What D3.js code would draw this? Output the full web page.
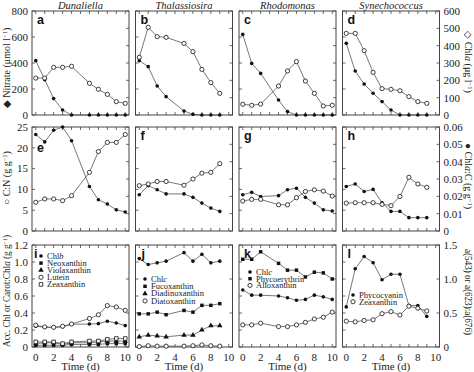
<!DOCTYPE html>
<html><head><meta charset="utf-8">
<script src="https://cdn.jsdelivr.net/npm/d3@7"></script>
<style>body{margin:0;background:#fff}svg{display:block}</style>
</head><body>
<script>
// ---------- data ----------
const species = ["Dunaliella","Thalassiosira","Rhodomonas","Synechococcus"];
const panelLetters = ["a","b","c","d","e","f","g","h","i","j","k","l"];
const timeA = [0,1,2,3,4,6,7,8,9,10];
const timeB = [0,1,2,3,5,6,7,8,9];
const timeC = [0,1,2,4,5,6,7,8,9,10];
const timeD = [0,1,2,3,4,5,6,7,8,9];
const timeTicks = [0,2,4,6,8,10];

// row 1: nitrate (left, umol/l) and Chla (right, ug/l)
const nitrateA = [418,272,126,38,0,0,0,0,0,0];
const chlaA    = [213,213,275,275,281,183,148,119,77,67];
const nitrateB = [418,372,223,141,31,5,0,0,0];
const chlaB    = [333,506,452,448,413,365,263,187,125];
const nitrateC = [620,397,320,115,26,0,0,0,0,0];
const chlaC    = [62,56,63,167,254,308,196,125,52,56];
const nitrateD = [551,338,238,167,103,38,0,0,0,0];
const chlaD    = [471,471,371,246,152,148,140,106,77,67];

// row 2: C:N (left) and Chla:C (right)
const cnA   = [6.9,7.7,7.7,7.3,8.5,14.1,19.1,21.3,21.3,23.2];
const chlcA = [0.0557,0.0514,0.0581,0.0600,0.0521,0.0257,0.0180,0.0156,0.0122,0.0110];
const cnB   = [10.9,11.3,11.9,11.9,11.0,12.5,13.9,14.1,16.2];
const chlcB = [0.0209,0.0262,0.0238,0.0214,0.0214,0.0194,0.0161,0.0132,0.0113];
const cnC   = [7.2,7.6,7.6,6.3,6.3,8.0,9.5,9.9,9.6,8.4];
const chlcC = [0.0209,0.0223,0.0199,0.0204,0.0238,0.0247,0.0194,0.0161,0.0122,0.0115];
const cnD   = [6.7,6.8,6.8,6.8,6.4,6.1,8.3,12.9,11.3,10.5];
const chlcD = [0.0257,0.0271,0.0228,0.0240,0.0163,0.0113,0.0113,0.0077,0.0077,0.0077];

// row 3: accessory pigments (left, g/g) and absorption ratios (right)
const chlbI   = [0.245,0.232,0.228,0.238,0.268,0.270,0.275,0.303,0.282,0.252];
const neoI    = [0.02,0.02,0.02,0.02,0.03,0.03,0.03,0.04,0.04,0.04];
const violaI  = [0.04,0.05,0.05,0.03,0.05,0.05,0.06,0.07,0.07,0.07];
const luteinI = [0.256,0.236,0.232,0.244,0.270,0.335,0.379,0.487,0.471,0.431];
const zeaI    = [0.06,0.06,0.06,0.04,0.06,0.07,0.07,0.09,0.10,0.10];
const chlcJ   = [1.04,0.97,0.99,1.01,1.11,1.01,1.09,0.99,1.01];
const fucoJ   = [0.39,0.39,0.41,0.38,0.43,0.41,0.49,0.49,0.51];
const diadJ   = [0.12,0.14,0.13,0.12,0.14,0.14,0.20,0.25,0.25];
const diatJ   = [0.005,0.015,0.01,0.01,0.01,0.015,0.025,0.015,0.01];
const chlcK   = [0.67,0.61,0.61,0.60,0.58,0.55,0.56,0.61,0.59,0.56];
const pheK    = [1.29,1.29,1.40,1.23,1.13,1.13,1.03,1.10,1.09,1.00];
const alloK   = [0.26,0.26,0.28,0.24,0.24,0.26,0.29,0.33,0.35,0.41];
const pcL     = [0.59,1.15,1.33,1.24,0.99,1.07,1.07,0.61,0.61,0.45];
const zeaL    = [0.38,0.37,0.39,0.40,0.49,0.52,0.47,0.60,0.57,0.53];

const leftTicks  = [[0,200,400,600,800],[0,5,10,15,20,25],[0,0.2,0.4,0.6,0.8,1.0,1.2]];
const rightTicks = [[0,100,200,300,400,500,600],[0,0.01,0.02,0.03,0.04,0.05,0.06],[0,0.5,1.0,1.5]];
const leftFmt  = [d=>String(d), d=>String(d), d=>d===0?"0":d3.format(".1f")(d)];
const rightFmt = [d=>String(d), d=>d===0?"0":d3.format(".2f")(d), d=>d===0?"0":d3.format(".1f")(d)];

// ---------- layout ----------
const W=474,H=372;
const colL=[32,135.5,239,342.5], colW=97;
const rowT=[11,127,245], rowB=[115,231,347];
const SERIF="'Liberation Serif','Times New Roman',serif";
const SANS="'Liberation Sans',Arial,sans-serif";
const LINE="#555", INK="#111", FRAME="#444";

const svg=d3.select("body").append("svg").attr("width",W).attr("height",H)
  .style("font-family",SERIF);

const leftDom=[[0,800],[0,25],[0,1.2]], rightDom=[[0,600],[0,0.06],[0,1.5]];

// series definitions per panel: [time, [values, axis, marker]]
const panels=[
 [timeA,[[nitrateA,'L','fc'],[chlaA,'R','oc']]],
 [timeB,[[nitrateB,'L','fc'],[chlaB,'R','oc']]],
 [timeC,[[nitrateC,'L','fc'],[chlaC,'R','oc']]],
 [timeD,[[nitrateD,'L','fc'],[chlaD,'R','oc']]],
 [timeA,[[chlcA,'R','fc'],[cnA,'L','oc']]],
 [timeB,[[chlcB,'R','fc'],[cnB,'L','oc']]],
 [timeC,[[chlcC,'R','fc'],[cnC,'L','oc']]],
 [timeD,[[chlcD,'R','fc'],[cnD,'L','oc']]],
 [timeA,[[neoI,'L','fs'],[violaI,'L','ft'],[zeaI,'L','os'],[chlbI,'L','fc'],[luteinI,'L','oc']]],
 [timeB,[[chlcJ,'L','fc'],[fucoJ,'L','fs'],[diadJ,'L','ft'],[diatJ,'L','oc']]],
 [timeC,[[pheK,'R','fs'],[chlcK,'L','fc'],[alloK,'L','oc']]],
 [timeD,[[pcL,'R','fc'],[zeaL,'R','oc']]]
];
// panel letter offsets [dx, dy from top]
const letterPos=[[5,13],[5,13],[5,13],[5,13],[5,25],[5,13],[5,13],[5,13],[2,13],[6,13],[5,13],[5,13]];

function drawMarker(g,type,x,y){
  if(type==='fc') g.append("circle").attr("cx",x).attr("cy",y).attr("r",1.8).attr("fill",INK);
  else if(type==='oc') g.append("circle").attr("cx",x).attr("cy",y).attr("r",2.1).attr("fill","#fff").attr("stroke",INK).attr("stroke-width",0.8);
  else if(type==='fs') g.append("path").attr("d",d3.symbol(d3.symbolSquare,12)()).attr("transform",`translate(${x},${y})`).attr("fill",INK);
  else if(type==='os') g.append("path").attr("d",d3.symbol(d3.symbolSquare,13)()).attr("transform",`translate(${x},${y})`).attr("fill","#fff").attr("stroke",INK).attr("stroke-width",0.8);
  else if(type==='ft') g.append("path").attr("d",d3.symbol(d3.symbolTriangle,13)()).attr("transform",`translate(${x},${y})`).attr("fill",INK);
}

panels.forEach((p,i)=>{
  const r=Math.floor(i/4), c=i%4;
  const x0=colL[c], x1=colL[c]+colW, y0=rowT[r], y1=rowB[r];
  const x=d3.scaleLinear().domain([-0.42,10.42]).range([x0,x1]);
  const yL=d3.scaleLinear().domain(leftDom[r]).range([y1,y0]);
  const yR=d3.scaleLinear().domain(rightDom[r]).range([y1,y0]);
  const g=svg.append("g");
  g.append("rect").attr("x",x0).attr("y",y0).attr("width",colW).attr("height",y1-y0)
    .attr("fill","none").attr("stroke",FRAME).attr("stroke-width",1);
  const tk=g.append("g").attr("stroke",FRAME).attr("stroke-width",0.8);
  d3.range(0,11).forEach(t=>{
    tk.append("line").attr("x1",x(t)).attr("x2",x(t)).attr("y1",y1).attr("y2",y1-3);
    tk.append("line").attr("x1",x(t)).attr("x2",x(t)).attr("y1",y0).attr("y2",y0+3);
  });
  leftTicks[r].forEach(t=>tk.append("line").attr("x1",x0).attr("x2",x0+3).attr("y1",yL(t)).attr("y2",yL(t)));
  rightTicks[r].forEach(t=>tk.append("line").attr("x1",x1).attr("x2",x1-3).attr("y1",yR(t)).attr("y2",yR(t)));
  if(c===0) leftTicks[r].forEach(t=>g.append("text").attr("x",x0-4).attr("y",yL(t)).attr("dy","0.35em")
      .attr("text-anchor","end").attr("font-size",11).attr("fill","#222").text(leftFmt[r](t)));
  if(c===3) rightTicks[r].forEach(t=>g.append("text").attr("x",x1+4).attr("y",yR(t)).attr("dy","0.35em")
      .attr("text-anchor","start").attr("font-size",11).attr("fill","#222").text(rightFmt[r](t)));
  if(r===2){
    timeTicks.forEach(t=>g.append("text").attr("x",x(t)).attr("y",361).attr("text-anchor","middle")
      .attr("font-size",11).attr("fill","#222").text(t));
    g.append("text").attr("x",(x0+x1)/2).attr("y",370).attr("text-anchor","middle")
      .attr("font-size",11).attr("fill","#222").text("Time (d)");
  }
  if(r===0){
    g.append("text").attr("x",(x0+x1)/2).attr("y",9).attr("text-anchor","middle")
      .attr("font-size",10.5).attr("font-style","italic").attr("fill","#222").text(species[c]);
  }
  const [time,series]=p;
  series.forEach(([vals,ax])=>{
    const ys=ax==='L'?yL:yR;
    const pts=vals.map((v,k)=>[x(time[k]),ys(v)]);
    g.append("path").attr("d",d3.line()(pts)).attr("fill","none").attr("stroke",LINE).attr("stroke-width",0.8);
  });
  series.forEach(([vals,ax,mk])=>{
    const ys=ax==='L'?yL:yR;
    vals.forEach((v,k)=>drawMarker(g,mk,x(time[k]),ys(v)));
  });
  g.append("text").attr("x",x0+letterPos[i][0]).attr("y",y0+letterPos[i][1]).attr("font-family",SANS).attr("font-weight","bold")
    .attr("font-size",12.5).attr("fill","#111").text(panelLetters[i]);
});

// ---------- legends (row 3) ----------
function legend(x,y0,dy,items){
  items.forEach(([mk,label,it],k)=>{
    const y=y0+k*dy;
    drawMarker(svg,mk,x,y);
    const t=svg.append("text").attr("x",x+6).attr("y",y).attr("dy","0.33em").attr("font-size",8.5).attr("fill","#222");
    if(it){ t.append("tspan").attr("fill","#222").text(label); t.append("tspan").attr("fill","#222").attr("font-style","italic").text(it); }
    else t.text(label);
  });
}
legend(41,256,7.1,[['fc','Chl','b'],['fs','Neoxanthin'],['ft','Violaxanthin'],['oc','Lutein'],['os','Zeaxanthin']]);
legend(145,279,7.3,[['fc','Chl','c'],['fs','Fucoxanthin'],['ft','Diadinoxanthin'],['oc','Diatoxanthin']]);
legend(250,272,6.7,[['fc','Chl','c'],['fs','Phycoerythrin'],['oc','Alloxanthin']]);
legend(353,295,6.7,[['fc','Phycocyanin'],['oc','Zeaxanthin']]);

// ---------- axis titles ----------
function vtitle(x,y,rot,parts,len){
  const t=svg.append("text").attr("transform",`translate(${x},${y}) rotate(${rot})`)
    .attr("text-anchor","middle").attr("font-size",10).attr("fill","#222");
  parts.forEach(([s,it,sup])=>{
    const sp=t.append("tspan").text(s);
    if(it) sp.attr("font-style","italic");
    if(sup) sp.attr("baseline-shift","super").attr("font-size",6.5);
  });
  if(len) t.attr("textLength",len).attr("lengthAdjust","spacingAndGlyphs");
}
vtitle(10,68,-90,[["◆ Nitrate (μmol l"],["−1",0,1],[")"]]);
vtitle(10,178,-90,[["○ C:N (g g"],["−1",0,1],[")"]]);
vtitle(10,291,-90,[["Acc. Chl or Carot:Chl"],["a",1],[" (g g"],["−1",0,1],[")"]],112);
vtitle(465,62,90,[["◇ Chl"],["a",1],[" (μg l"],["−1",0,1],[")"]]);
vtitle(465,176,90,[["● Chl"],["a",1],[":C (g g"],["−1",0,1],[")"]]);
vtitle(465,292,90,[["a(543) or a(623):a(676)"]],86);
</script>
</body></html>
